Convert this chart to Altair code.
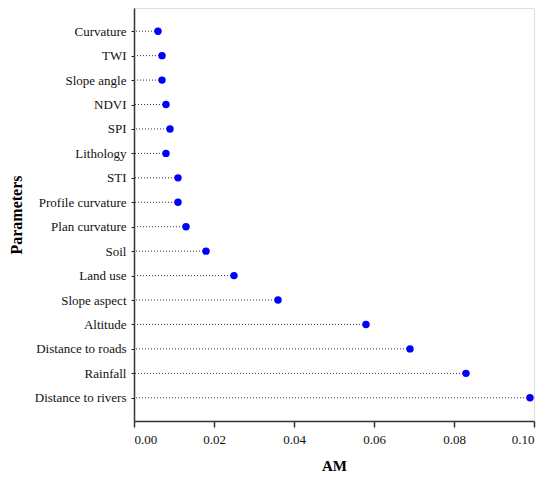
import altair as alt
import pandas as pd

params = ["Curvature", "TWI", "Slope angle", "NDVI", "SPI", "Lithology", "STI",
          "Profile curvature", "Plan curvature", "Soil", "Land use", "Slope aspect",
          "Altitude", "Distance to roads", "Rainfall", "Distance to rivers"]
am = [0.006, 0.007, 0.007, 0.008, 0.009, 0.008, 0.011, 0.011, 0.013, 0.018,
      0.025, 0.036, 0.058, 0.069, 0.083, 0.099]
x_ticks = [0.0, 0.02, 0.04, 0.06, 0.08, 0.10]

df = pd.DataFrame({"param": params, "am": am})

font = "Liberation Serif"

y_enc = alt.Y("param:N", sort=params,
              scale=alt.Scale(type="point", padding=0.95),
              axis=alt.Axis(title="Parameters", titleFontSize=16, titleFontWeight="bold",
                            titleFont=font, titlePadding=10, titleColor="#000",
                            labelFont=font, labelFontSize=13, labelColor="#111",
                            tickSize=3, tickColor="#222", labelPadding=5,
                            domainColor="#333", domainWidth=1.5, grid=False))
x_scale = alt.Scale(domain=[0, 0.1], nice=False)
x_axis = alt.Axis(title="AM", titleFontSize=15, titleFontWeight="bold", titleFont=font,
                  titlePadding=12, values=x_ticks, format=".2f", titleColor="#000",
                  labelFont=font, labelFontSize=13, labelColor="#111", labelPadding=6,
                  tickSize=6, tickColor="#333", tickWidth=1.5,
                  domainColor="#333", domainWidth=1.5, grid=False)

rules = alt.Chart(df).mark_rule(strokeDash=[1, 2], color="#333", strokeWidth=1).encode(
    y=y_enc,
    x=alt.X("am:Q", scale=x_scale, axis=x_axis),
    x2=alt.datum(0),
)
dots = alt.Chart(df).mark_circle(size=55, color="#0000FF", opacity=1).encode(
    y=alt.Y("param:N", sort=params),
    x=alt.X("am:Q"),
)

chart = (rules + dots).properties(
    width=400, height=413,
    autosize=alt.AutoSizeParams(type="none"),
    padding={"left": 126, "top": 0, "right": 8, "bottom": 56},
).configure_view(stroke="#666", strokeWidth=1.5).configure(background="white")

chart.save("out.html", embed_options={"renderer": "svg", "actions": False})
